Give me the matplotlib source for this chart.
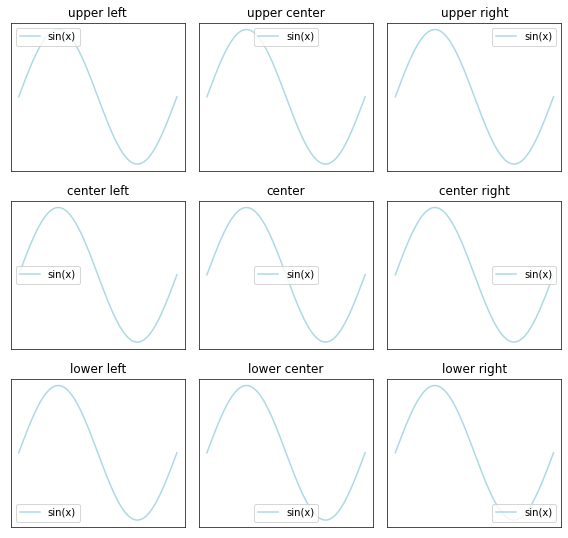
import numpy as np
import matplotlib
matplotlib.use("Agg")
import matplotlib.pyplot as plt

locations = ["upper left", "upper center", "upper right",
             "center left", "center", "center right",
             "lower left", "lower center", "lower right"]
series_label = "sin(x)"
x = np.linspace(0, 2 * np.pi, 200)
y = np.sin(x)

W, H = 568, 538
dpi = 72
fig = plt.figure(figsize=(W / dpi, H / dpi), dpi=dpi)

col_left = [10.8, 199.0, 387.4]
row_top = [22.8, 200.8, 378.8]
aw, ah = 174.0, 148.0

for i, loc in enumerate(locations):
    r, c = divmod(i, 3)
    ax = fig.add_axes([col_left[c] / W, 1 - (row_top[r] + ah) / H, aw / W, ah / H])
    ax.plot(x, y, color="lightblue", label=series_label, linewidth=1.5)
    ax.set_xticks([])
    ax.set_yticks([])
    ax.set_title(loc, fontsize=12)
    ax.legend(loc=loc, fontsize=10)
    for s in ax.spines.values():
        s.set_color("#222222")

fig.savefig("out.png", dpi=dpi)
